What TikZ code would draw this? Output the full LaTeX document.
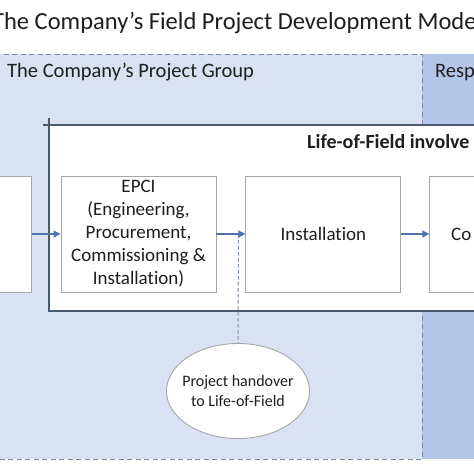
\documentclass[tikz,border=0pt]{standalone}
\usepackage{fontspec}
\setmainfont{Carlito}[Ligatures=NoCommon]
\usetikzlibrary{arrows.meta,shapes.geometric,positioning}

\definecolor{grouplight}{HTML}{DAE1F3}
\definecolor{groupdark}{HTML}{B4C6E7}
\definecolor{dashgray}{HTML}{7D8DA6}
\definecolor{lifeline}{HTML}{4A596E}
\definecolor{boxgray}{HTML}{A6A6A6}
\definecolor{flowblue}{HTML}{4F72B0}
\definecolor{inkblack}{HTML}{1E1E1E}

\tikzset{
  stagebox/.style={draw=boxgray, fill=white, line width=0.9pt, minimum width=155pt,
    minimum height=116pt, inner sep=0pt, align=center, text=inkblack,
    font=\fontsize{19}{23}\selectfont},
  flow/.style={flowblue, line width=1.4pt, -{Triangle[length=7pt,width=7pt]}},
  labeltext/.style={anchor=base west, inner sep=0pt, text=inkblack},
}

\begin{document}
\begin{tikzpicture}[x=1pt,y=-1pt]
    \useasboundingbox (0,0) rectangle (474,474);
    \clip (0,0) rectangle (474,474);
    % areas
    \fill[grouplight] (-5,54) rectangle (422,459);
    \fill[groupdark] (422,54) rectangle (480,459);
    \draw[dashgray, line width=1pt, dash pattern=on 5pt off 3.5pt] (-5,54) -- (422,54) -- (422,459) -- (-5,459);
    % life-of-field frame
    \fill[white] (49,125) rectangle (700,311);
    \draw[lifeline, line width=1.3pt] (43,125) -- (700,125);
    \draw[lifeline, line width=1.3pt] (49,118) -- (49,311) -- (700,311);
    % stages
    \node[stagebox] (epci) at (138.5,234) {EPCI\\(Engineering,\\Procurement,\\Commissioning \&\\Installation)};
    \node[stagebox, left=29pt of epci] (prev) {};
    \node[stagebox, right=29pt of epci] (install) {Installation};
    \node[stagebox, right=28pt of install] (comm) {};
    \node[labeltext, font=\fontsize{19}{23}\selectfont] (commtext) at (451,240) {Co};
    % handover
    \coordinate (handpt) at ([xshift=-7pt]install.west);
    \node[ellipse, draw=boxgray, fill=white, line width=0.9pt, minimum width=143pt, minimum height=95pt,
      inner xsep=-6pt, inner ysep=0pt, align=center, text=inkblack, font=\fontsize{16}{19.5}\selectfont] (handover) at (238,391) {Project handover\\to Life-of-Field};
    \draw[dashgray, line width=1pt, dash pattern=on 3.5pt off 2.5pt] (handpt) -- (handover.north);
    \draw[flow] (prev) -- (epci);
    \draw[flow] (epci) -- (install);
    \draw[flow] (install) -- (comm);
    % texts
    \node[labeltext, font=\fontsize{24.5}{29}\selectfont] (title) at (-8,29) {The Company’s Field Project Development Mode};
    \node[labeltext, font=\fontsize{20.5}{24}\selectfont] (grouplabel) at (7,77) {The Company’s Project Group};
    \node[labeltext, font=\fontsize{20.5}{24}\selectfont] (resplabel) at (435,77) {Resp};
    \node[labeltext, font=\bfseries\fontsize{20}{24}\selectfont] (lifelabel) at (307,148) {Life-of-Field involve};
\end{tikzpicture}
\end{document}
